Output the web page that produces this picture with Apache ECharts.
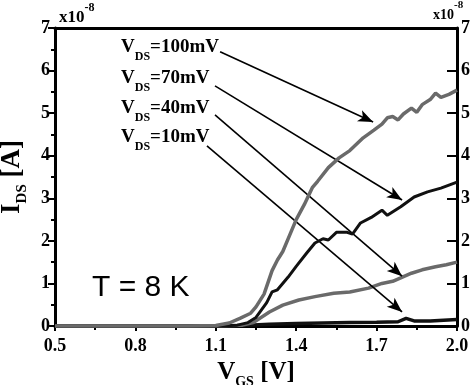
<!DOCTYPE html>
<html><head><meta charset="utf-8">
<script src="https://cdn.jsdelivr.net/npm/echarts@6/dist/echarts.min.js"></script>
<style>html,body{margin:0;padding:0;background:#fff}#c{width:474px;height:385px}</style>
</head><body><div id="c"></div>
<script>
// ---- data ----
const xTicks = [0.5, 0.8, 1.1, 1.4, 1.7, 2.0];
const yTicks = [0, 1, 2, 3, 4, 5, 6, 7];

const vgs100 = [0.5, 0.7, 0.9, 1.0, 1.1, 1.15, 1.19, 1.23, 1.25, 1.28, 1.31, 1.33, 1.35, 1.38, 1.40, 1.43, 1.46, 1.48, 1.52, 1.56, 1.60, 1.65, 1.69, 1.72, 1.74, 1.76, 1.78, 1.80, 1.83, 1.85, 1.87, 1.90, 1.92, 1.94, 1.97, 2.0];
const id100  = [0, 0, 0, 0, 0.01, 0.07, 0.18, 0.3, 0.45, 0.75, 1.3, 1.55, 1.75, 2.2, 2.5, 2.85, 3.25, 3.4, 3.72, 3.95, 4.12, 4.42, 4.6, 4.74, 4.89, 4.92, 4.84, 4.98, 5.12, 5.02, 5.2, 5.32, 5.47, 5.37, 5.44, 5.54];

const vgs70 = [0.5, 0.9, 1.1, 1.18, 1.22, 1.25, 1.29, 1.31, 1.33, 1.37, 1.40, 1.44, 1.47, 1.50, 1.52, 1.55, 1.59, 1.61, 1.64, 1.68, 1.72, 1.74, 1.79, 1.84, 1.89, 1.94, 2.0];
const id70  = [0, 0, 0, 0.02, 0.08, 0.2, 0.55, 0.8, 0.85, 1.15, 1.4, 1.72, 1.95, 2.05, 2.02, 2.2, 2.2, 2.16, 2.42, 2.55, 2.72, 2.6, 2.8, 3.03, 3.15, 3.24, 3.38];

const vgs40 = [0.5, 0.9, 1.1, 1.2, 1.24, 1.30, 1.35, 1.41, 1.47, 1.54, 1.60, 1.67, 1.72, 1.76, 1.79, 1.83, 1.87, 1.92, 1.96, 2.0];
const id40  = [0, 0, 0, 0.02, 0.08, 0.33, 0.49, 0.61, 0.69, 0.77, 0.8, 0.89, 1.0, 1.05, 1.13, 1.24, 1.32, 1.39, 1.44, 1.5];

const vgs10 = [0.5, 1.1, 1.2, 1.3, 1.4, 1.5, 1.6, 1.7, 1.78, 1.81, 1.84, 1.9, 2.0];
const id10  = [0, 0, 0.01, 0.04, 0.06, 0.07, 0.08, 0.09, 0.1, 0.18, 0.12, 0.12, 0.15];

// annotation arrows (data coordinates: V, x1e-8 A)
const arrowLabels = ['100mV', '70mV', '40mV', '10mV'];
const arrowStartX = [1.116, 1.097, 1.097, 1.067];
const arrowStartY = [6.44, 5.64, 4.96, 4.23];
const arrowEndX   = [1.687, 1.795, 1.795, 1.795];
const arrowEndY   = [4.79, 2.96, 1.17, 0.33];

// ---- chart ----
const SERIF = '"Liberation Serif","Times New Roman",serif';
const GRAY = '#6a6a6a', BLACK = '#111';
const pair = (xs, ys) => xs.map((x, i) => [x, ys[i]]);

const chart = echarts.init(document.getElementById('c'), null, {renderer: 'canvas'});

const lineSeries = (name, xs, ys, color, w, z) => ({
  name, type: 'line', data: pair(xs, ys), showSymbol: false, symbol: 'none',
  lineStyle: {color, width: w}, z, animation: false
});

const arrowData = arrowStartX.map((x, i) => [
  {coord: [x, arrowStartY[i]]},
  {coord: [arrowEndX[i], arrowEndY[i]]}
]);

const subRich = {
  m: {fontFamily: SERIF, fontWeight: 'bold', fontSize: 19, color: '#000', lineHeight: 30, verticalAlign: 'middle'},
  s: {fontFamily: SERIF, fontWeight: 'bold', fontSize: 12, color: '#000', lineHeight: 30, verticalAlign: 'bottom'}
};
const labelRowsY = [48, 79, 109, 138];

const option = {
  animation: false,
  backgroundColor: '#fff',
  grid: {left: 55, right: 17, top: 28, bottom: 59, outerBoundsMode: 'none', containLabel: false},
  xAxis: [{
    type: 'value', min: 0.5, max: 2.0, interval: 0.3,
    axisLine: {show: true, onZero: false, lineStyle: {color: '#000', width: 3}},
    axisTick: {show: true, inside: false, length: 5, lineStyle: {color: '#000', width: 2}},
    minorTick: {show: true, splitNumber: 2, length: 4, lineStyle: {color: '#000', width: 2}},
    splitLine: {show: false},
    axisLabel: {margin: 11, fontFamily: SERIF, fontWeight: 'bold', fontSize: 18, color: '#000',
      formatter: v => v.toFixed(1)},
    name: '{m|V}{s|GS}{m| [V]}', nameLocation: 'middle', nameGap: 27,
    nameTextStyle: {rich: {
      m: {fontFamily: SERIF, fontWeight: 'bold', fontSize: 25, color: '#000', lineHeight: 34, verticalAlign: 'middle'},
      s: {fontFamily: SERIF, fontWeight: 'bold', fontSize: 14, color: '#000', lineHeight: 34, verticalAlign: 'bottom'}
    }}
  }, {
    type: 'value', position: 'top', min: 0.5, max: 2.0, interval: 0.3,
    axisLine: {show: true, onZero: false, lineStyle: {color: '#000', width: 3}},
    axisTick: {show: false}, axisLabel: {show: false}, splitLine: {show: false}
  }],
  yAxis: [{
    type: 'value', min: 0, max: 7, interval: 1,
    axisLine: {show: true, onZero: false, lineStyle: {color: '#000', width: 3}},
    axisTick: {show: true, inside: false, length: 7, lineStyle: {color: '#000', width: 2}},
    minorTick: {show: true, splitNumber: 2, length: 4, lineStyle: {color: '#000', width: 2}},
    splitLine: {show: false},
    axisLabel: {margin: 5, fontFamily: SERIF, fontWeight: 'bold', fontSize: 18, color: '#000'},
    name: '{m|I}{s|DS}{m| [A]}', nameLocation: 'middle', nameGap: 24, nameRotate: 90,
    nameTextStyle: {rich: {
      m: {fontFamily: SERIF, fontWeight: 'bold', fontSize: 27, color: '#000', lineHeight: 36, verticalAlign: 'middle'},
      s: {fontFamily: SERIF, fontWeight: 'bold', fontSize: 15, color: '#000', lineHeight: 36, verticalAlign: 'bottom'}
    }}
  }, {
    type: 'value', position: 'right', min: 0, max: 7, interval: 1,
    axisLine: {show: true, onZero: false, lineStyle: {color: '#000', width: 3}},
    axisTick: {show: true, inside: true, length: 10, lineStyle: {color: '#000', width: 2}},
    splitLine: {show: false},
    axisLabel: {margin: 4, fontFamily: SERIF, fontWeight: 'bold', fontSize: 18, color: '#000'}
  }],
  series: [
    lineSeries('10mV', vgs10, id10, BLACK, 3.5, 3),
    lineSeries('40mV', vgs40, id40, GRAY, 3.5, 4),
    lineSeries('70mV', vgs70, id70, BLACK, 3, 5),
    lineSeries('100mV', vgs100, id100, GRAY, 3.5, 6),
    {
      type: 'line', data: [], z: 10,
      markLine: {
        silent: true, animation: false,
        symbol: ['none', 'arrow'], symbolSize: [9, 15],
        label: {show: false},
        lineStyle: {color: '#000', width: 1.6, type: 'solid'},
        data: arrowData
      }
    }
  ],
  graphic: [
    ...arrowLabels.map((t, i) => ({
      type: 'text', left: 121, top: labelRowsY[i] - 10, z: 20,
      style: {text: '{m|V}{s|DS}{m|=' + t + '}', rich: subRich}
    })),
    {type: 'text', left: 92, top: 273, z: 20,
     style: {text: 'T = 8 K', font: '30px "Liberation Sans", Arial, sans-serif', fill: '#000'}},
    {type: 'text', left: 59, top: 2, z: 20,
     style: {text: '{a|x10}{b|-8}', rich: {
       a: {fontFamily: SERIF, fontWeight: 'bold', fontSize: 17, color: '#000', lineHeight: 24, verticalAlign: 'bottom'},
       b: {fontFamily: SERIF, fontWeight: 'bold', fontSize: 12, color: '#000', lineHeight: 24, verticalAlign: 'top'}}}},
    {type: 'text', left: 433, top: 0, z: 20,
     style: {text: '{a|x10}{b|-8}', rich: {
       a: {fontFamily: SERIF, fontWeight: 'bold', fontSize: 14, color: '#000', lineHeight: 22, verticalAlign: 'bottom'},
       b: {fontFamily: SERIF, fontWeight: 'bold', fontSize: 11, color: '#000', lineHeight: 22, verticalAlign: 'top'}}}}
  ]
};
chart.setOption(option);
</script>
</body></html>
